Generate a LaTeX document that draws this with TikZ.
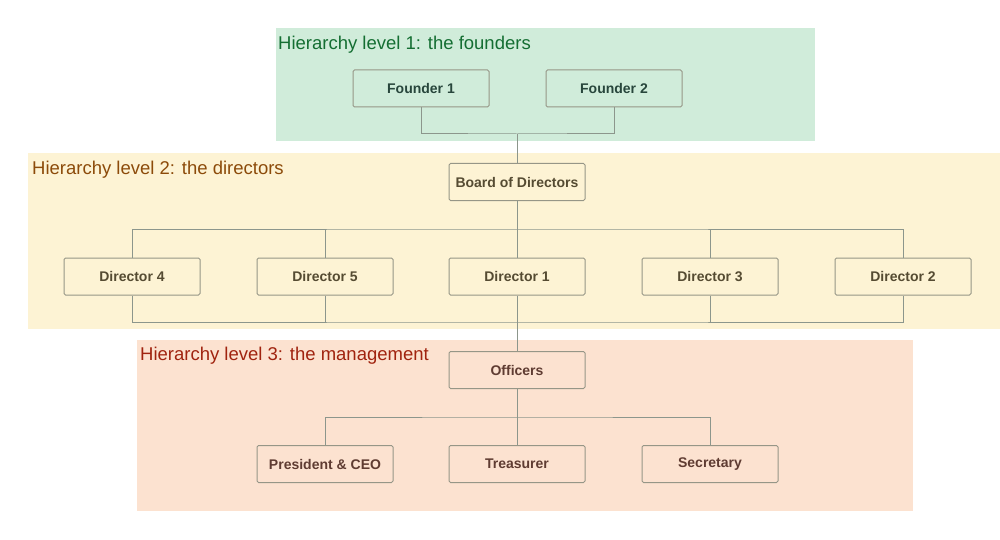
\documentclass[tikz,border=0pt]{standalone}
\usepackage{fontspec}
\setmainfont{Liberation Sans}
\begin{document}
\begin{tikzpicture}[x=1pt,y=-1pt,
  box/.style={draw={rgb,255:red,150;green,150;blue,135}, rounded corners=1.5pt, line width=1pt, minimum width=136pt, minimum height=37pt, font=\bfseries\fontsize{14}{16}\selectfont, inner sep=0pt},
  lvl/.style={anchor=west, font=\fontsize{18.5}{21}\selectfont, inner sep=0pt},
  con/.style={draw={rgb,255:red,140;green,150;blue,140}, line width=1pt}]
\useasboundingbox (0,0) rectangle (1000,540);
\fill[fill={rgb,255:red,208;green,236;blue,218}] (276,28) rectangle (815,141);
\fill[fill={rgb,255:red,253;green,243;blue,212}] (28,153) rectangle (1000,329);
\fill[fill={rgb,255:red,252;green,226;blue,208}] (137,340) rectangle (913,511);
\node[lvl, text={rgb,255:red,20;green,110;blue,50}] (t1) at (278,45) {Hierarchy level 1: the founders};
\node[lvl, text={rgb,255:red,140;green,75;blue,10}] (t2) at (32,170) {Hierarchy level 2: the directors};
\node[lvl, text={rgb,255:red,160;green,35;blue,15}] (t3) at (140,356) {Hierarchy level 3: the management};
\begin{scope}[every node/.append style={text={rgb,255:red,40;green,70;blue,60}}]
\node[box] (f1) at (421,88.5) {Founder 1};
\node[box] (f2) at (614,88.5) {Founder 2};
\end{scope}
\begin{scope}[every node/.append style={text={rgb,255:red,85;green,75;blue,50}}]
\node[box] (bd) at (517,182) {Board of Directors};
\node[box] (d4) at (132,276.5) {Director 4};
\node[box] (d5) at (325,276.5) {Director 5};
\node[box] (d1) at (517,276.5) {Director 1};
\node[box] (d3) at (710,276.5) {Director 3};
\node[box] (d2) at (903,276.5) {Director 2};
\end{scope}
\begin{scope}[every node/.append style={text={rgb,255:red,95;green,60;blue,50}}]
\node[box] (of) at (517,370) {Officers};
\node[box] (pr) at (325,464) {President \& CEO};
\node[box] (tr) at (517,464) {Treasurer};
\node[box] (se) at (710,464) {Secretary};
\end{scope}
\draw[con] (f1.south) |- (517,134) coordinate (j1) -| (f2.south);
\draw[con] (j1) -- (bd.north);
\draw[con] (bd.south) -- (517,229) coordinate (j2);
\draw[con] (d4.north) |- (j2) -| (d2.north);
\foreach \n in {d5,d1,d3} \draw[con] (\n.north) -- (\n.north |- j2);
\draw[con] (d4.south) |- (517,322) coordinate (j3) -| (d2.south);
\foreach \n in {d5,d1,d3} \draw[con] (\n.south) -- (\n.south |- j3);
\draw[con] (j3) -- (of.north);
\draw[con] (of.south) -- (517,417) coordinate (j4);
\draw[con] (pr.north) |- (j4) -| (se.north);
\draw[con] (j4) -- (tr.north);
\end{tikzpicture}
\end{document}
